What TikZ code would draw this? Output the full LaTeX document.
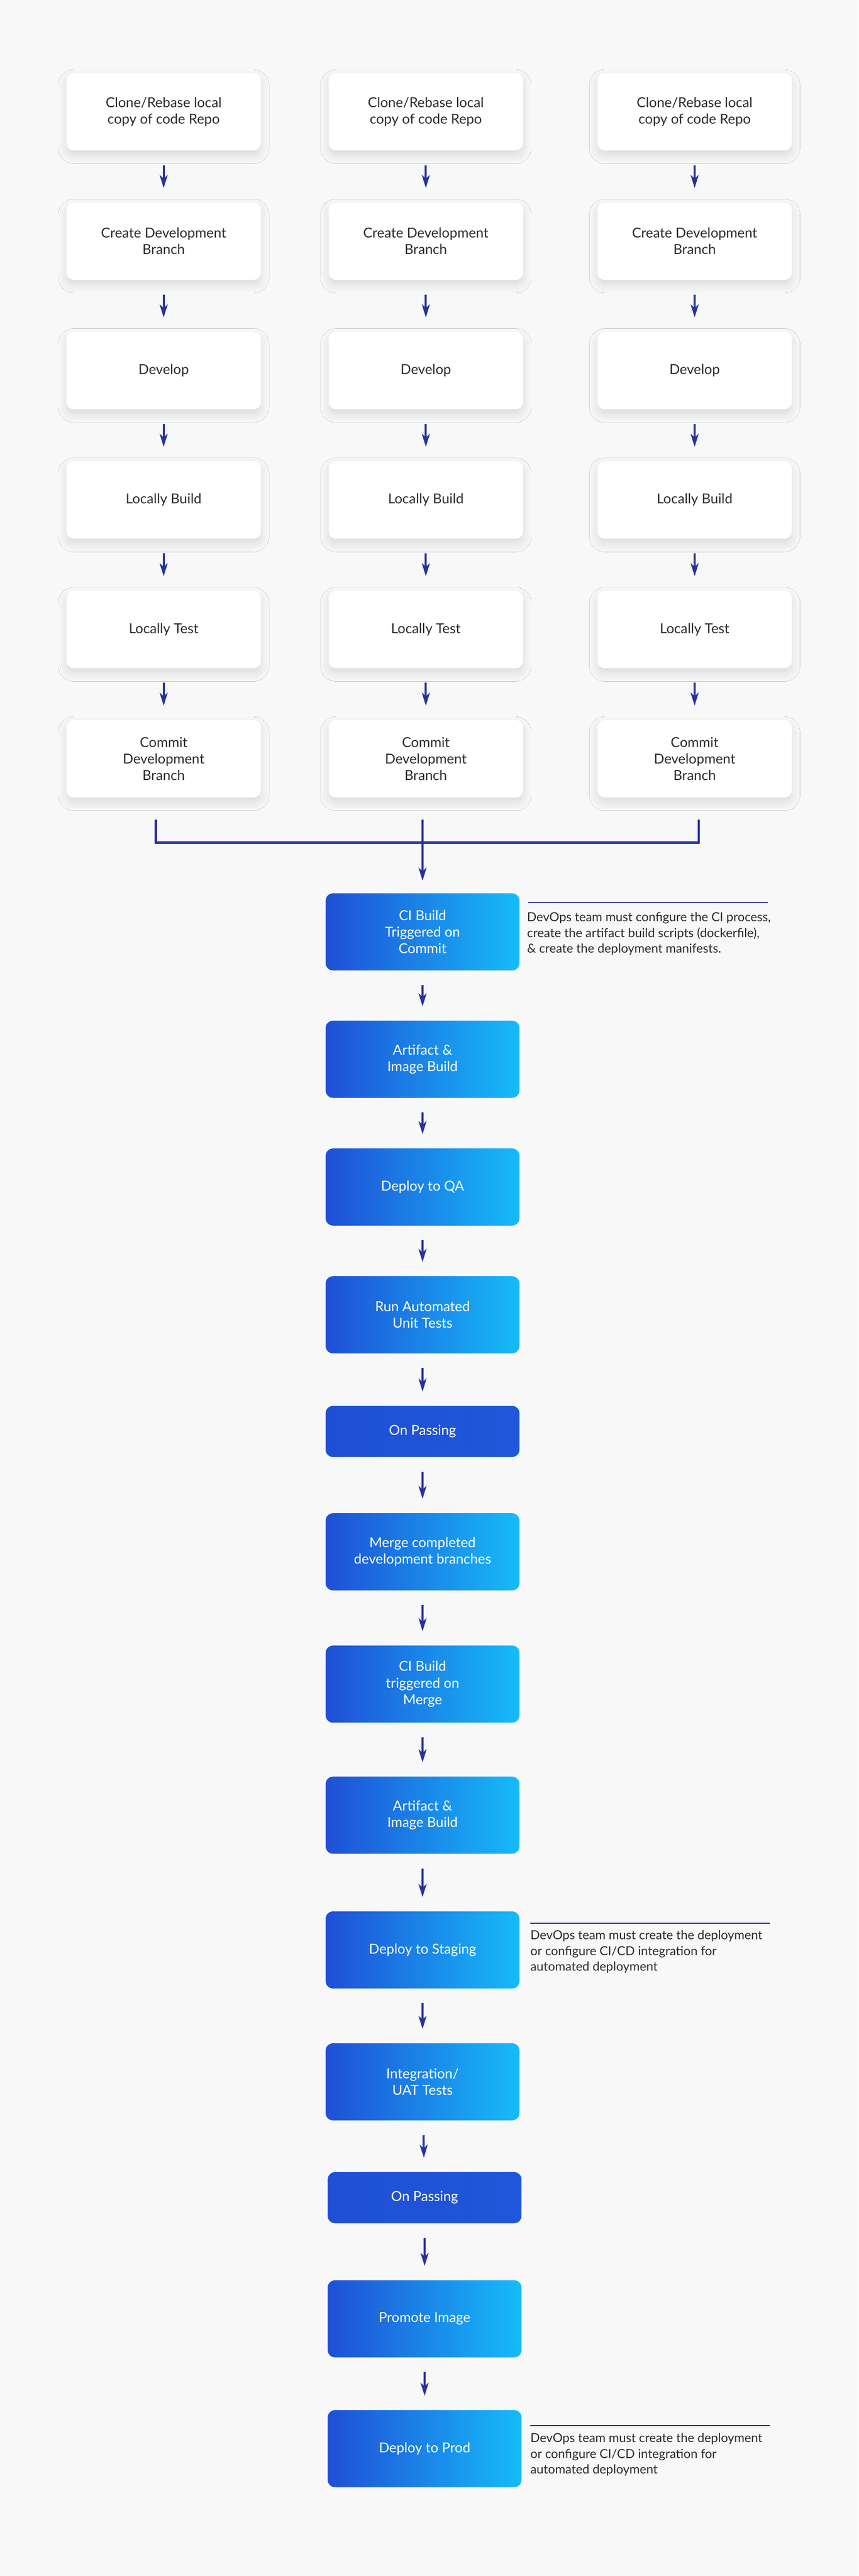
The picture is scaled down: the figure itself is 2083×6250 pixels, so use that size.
\documentclass[tikz,border=0pt]{standalone}
\usepackage{fontspec}
\setmainfont{Lato}
\usetikzlibrary{arrows.meta,shadows.blur,calc}
\definecolor{bg}{HTML}{F8F8F9}
\definecolor{navy}{HTML}{26339A}
\definecolor{bl}{HTML}{1F4FD6}
\definecolor{cy}{HTML}{16BBF9}
\definecolor{txt}{HTML}{2B2B2B}
\begin{document}
\begin{tikzpicture}[x=0.01cm,y=-0.01cm,
  wbox/.style={fill=white,rounded corners=0.18cm,minimum width=4.71cm,minimum height=1.88cm,align=center,text=txt,font=\fontsize{9.5}{11.5}\selectfont,blur shadow={shadow blur steps=8,shadow xshift=0pt,shadow yshift=-0.12cm,shadow opacity=12,shadow blur radius=0.2cm}},
  gbox/.style={left color=bl,right color=cy,rounded corners=0.18cm,minimum width=4.7cm,minimum height=1.87cm,align=center,text=white,font=\fontsize{9.5}{11.5}\selectfont},
  sbox/.style={gbox,left color=bl,right color=bl!92!cy,minimum height=1.24cm},
  arr/.style={navy,line width=1.4pt,-{Stealth[length=9pt,width=5.5pt,inset=2.5pt]},shorten <=0.35cm,shorten >=0.34cm},
  note/.style={anchor=north west,align=left,text=txt,font=\fontsize{8.6}{10.8}\selectfont,inner sep=0pt},
  nline/.style={navy!80!blue,line width=0.6pt}]
\fill[bg] (0,0) rectangle (2083,6250);
\foreach \c/\x in {a/397,b/1033,c/1685}{
  \node[wbox] (\c1) at (\x,271) {Clone/Rebase local\\copy of code Repo};
  \node[wbox] (\c2) at (\x,585) {Create Development\\Branch};
  \node[wbox] (\c3) at (\x,899) {Develop};
  \node[wbox] (\c4) at (\x,1213) {Locally Build};
  \node[wbox] (\c5) at (\x,1527) {Locally Test};
  \node[wbox] (\c6) at (\x,1841) {Commit\\Development\\Branch};
  \foreach \i/\j in {1/2,2/3,3/4,4/5,5/6} \draw[arr] (\c\i) -- (\c\j);
}
\node[gbox] (g1) at (1025,2261) {CI Build\\Triggered on\\Commit};
\node[gbox] (g2) at (1025,2570) {Artifact \&\\Image Build};
\node[gbox] (g3) at (1025,2880) {Deploy to QA};
\node[gbox] (g4) at (1025,3190) {Run Automated\\Unit Tests};
\node[sbox] (g5) at (1025,3473) {On Passing};
\node[gbox] (g6) at (1025,3765) {Merge completed\\development branches};
\node[gbox] (g7) at (1025,4086) {CI Build\\triggered on\\Merge};
\node[gbox] (g8) at (1025,4404) {Artifact \&\\Image Build};
\node[gbox] (g9) at (1025,4731) {Deploy to Staging};
\node[gbox] (g10) at (1025,5051) {Integration/\\UAT Tests};
\node[sbox] (g11) at (1030,5332) {On Passing};
\node[gbox] (g12) at (1030,5626) {Promote Image};
\node[gbox] (g13) at (1030,5941) {Deploy to Prod};
\foreach \i [evaluate=\i as \j using int(\i+1)] in {1,...,12} \draw[arr] (g\i) -- (g\j);
\coordinate (bl) at (378,1989);
\coordinate (br) at (1695,1989);
\coordinate (bm) at (1025,1989);
\draw[navy,line width=1.7pt] (bl) |- (1025,2044) -| (br);
\draw[arr,shorten <=0pt,shorten >=0.3cm] (bm) -- (g1);
\draw[nline] (1281,2190) -- (1862,2190);
\node[note] (n1) at (1278,2213) {DevOps team must configure the CI process,\\create the artifact build scripts (dockerfile),\\\& create the deployment manifests.};
\draw[nline] (1286,4666) -- (1867,4666);
\node[note] (n2) at (1286,4683) {DevOps team must create the deployment\\or configure CI/CD integration for\\automated deployment};
\draw[nline] (1286,5885) -- (1867,5885);
\node[note] (n3) at (1286,5903) {DevOps team must create the deployment\\or configure CI/CD integration for\\automated deployment};
\end{tikzpicture}
\end{document}
